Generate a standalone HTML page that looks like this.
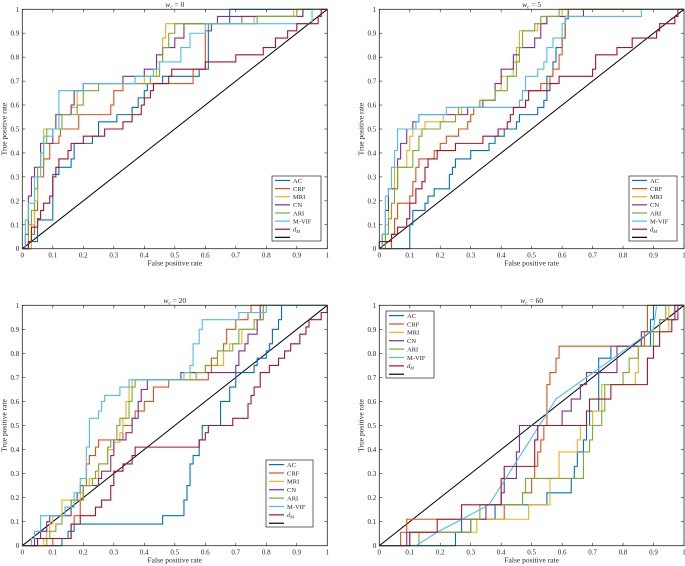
<!DOCTYPE html>
<html><head><meta charset="utf-8"><style>
body{margin:0;background:#fff}
svg{display:block}
text{font-family:"Liberation Serif",serif;fill:#262626}
</style></head><body>
<svg id="fig" width="685" height="566" viewBox="0 0 685 566" xmlns="http://www.w3.org/2000/svg"></svg>
<script>
const seriesNames=["AC","CRF","MRI","CN","ARI","M-VIF","dM"];
const seriesColors=["#0072BD","#D95319","#EDB120","#7E2F8E","#77AC30","#4DBEEE","#A2142F"];
const panelTitles=["0","5","20","60"];
const tickValues=[0,0.1,0.2,0.3,0.4,0.5,0.6,0.7,0.8,0.9,1];
const tickLabels=["0","0.1","0.2","0.3","0.4","0.5","0.6","0.7","0.8","0.9","1"];
// panel 1 (wc=0) step corner points [fpr,tpr]
const p1AC=[[0.02,0.03],[0.05,0.12],[0.1,0.25],[0.1,0.31],[0.12,0.34],[0.16,0.375],[0.17,0.44],[0.23,0.47],[0.25,0.53],[0.31,0.56],[0.36,0.59],[0.38,0.63],[0.4,0.66],[0.41,0.69],[0.46,0.72],[0.58,0.75],[0.61,0.91],[0.62,0.94],[0.68,1],[1,1]];
const p1CRF=[[0.03,0.06],[0.04,0.16],[0.05,0.3],[0.07,0.375],[0.09,0.44],[0.12,0.47],[0.125,0.5],[0.185,0.56],[0.29,0.6],[0.3,0.66],[0.33,0.69],[0.56,0.75],[0.6,0.91],[0.61,0.94],[0.72,0.97],[0.92,1],[1,1]];
const p1MRI=[[0.03,0.1],[0.04,0.2],[0.05,0.34],[0.06,0.44],[0.07,0.5],[0.12,0.56],[0.16,0.59],[0.18,0.66],[0.2,0.69],[0.4,0.72],[0.44,0.78],[0.46,0.88],[0.47,0.94],[0.76,0.97],[0.89,1],[1,1]];
const p1CN=[[0.01,0.06],[0.02,0.22],[0.03,0.3],[0.04,0.34],[0.06,0.44],[0.1,0.5],[0.11,0.56],[0.16,0.6],[0.17,0.66],[0.2,0.69],[0.33,0.72],[0.4,0.75],[0.44,0.81],[0.46,0.84],[0.5,0.88],[0.53,0.94],[0.64,0.97],[0.92,1],[1,1]];
const p1ARI=[[0.02,0.1],[0.03,0.16],[0.04,0.25],[0.05,0.34],[0.07,0.44],[0.08,0.5],[0.13,0.56],[0.18,0.6],[0.2,0.66],[0.25,0.69],[0.42,0.72],[0.45,0.78],[0.46,0.84],[0.48,0.9],[0.5,0.94],[0.77,0.97],[0.9,1],[1,1]];
const p1MVIF=[[0.01,0.12],[0.02,0.19],[0.04,0.3],[0.06,0.4],[0.07,0.47],[0.1,0.5],[0.12,0.6],[0.12,0.66],[0.2,0.69],[0.37,0.72],[0.43,0.75],[0.45,0.78],[0.52,0.84],[0.55,0.9],[0.6,0.94],[0.95,0.97],[0.95,1],[1,1]];
const p1DM=[[0.02,0.03],[0.03,0.09],[0.05,0.125],[0.06,0.16],[0.07,0.19],[0.09,0.22],[0.1,0.3],[0.11,0.34],[0.12,0.375],[0.15,0.41],[0.16,0.44],[0.2,0.47],[0.27,0.5],[0.33,0.53],[0.36,0.56],[0.39,0.6],[0.4,0.63],[0.42,0.66],[0.43,0.69],[0.48,0.72],[0.49,0.75],[0.6,0.78],[0.7,0.81],[0.79,0.84],[0.83,0.88],[0.87,0.91],[0.9,0.94],[0.97,0.97],[0.98,1],[1,1]];
// panel 2 (wc=5)
const p2AC=[[0.1,0.1],[0.11,0.16],[0.15,0.19],[0.16,0.22],[0.18,0.25],[0.23,0.31],[0.24,0.34],[0.25,0.375],[0.3,0.41],[0.36,0.44],[0.38,0.47],[0.41,0.5],[0.45,0.53],[0.46,0.56],[0.52,0.59],[0.54,0.62],[0.55,0.66],[0.55,0.72],[0.57,0.78],[0.58,0.84],[0.6,0.88],[0.61,0.96],[0.62,1],[1,1]];
const p2CRF=[[0.04,0.06],[0.05,0.125],[0.06,0.19],[0.1,0.22],[0.11,0.28],[0.12,0.34],[0.13,0.375],[0.18,0.41],[0.2,0.44],[0.22,0.47],[0.26,0.5],[0.29,0.53],[0.3,0.56],[0.31,0.59],[0.46,0.62],[0.47,0.66],[0.53,0.69],[0.56,0.72],[0.57,0.75],[0.59,0.81],[0.6,0.88],[0.61,0.97],[0.62,1],[1,1]];
const p2MRI=[[0.02,0.1],[0.03,0.25],[0.05,0.34],[0.09,0.41],[0.1,0.47],[0.11,0.5],[0.15,0.53],[0.21,0.56],[0.27,0.59],[0.33,0.62],[0.38,0.66],[0.4,0.72],[0.44,0.78],[0.45,0.84],[0.46,0.91],[0.52,0.94],[0.55,0.97],[0.6,1],[1,1]];
const p2CN=[[0.01,0.06],[0.02,0.16],[0.03,0.25],[0.06,0.375],[0.07,0.44],[0.09,0.5],[0.11,0.53],[0.13,0.56],[0.29,0.59],[0.34,0.62],[0.38,0.69],[0.4,0.75],[0.44,0.81],[0.46,0.84],[0.51,0.88],[0.53,0.94],[0.55,0.97],[0.67,1],[1,1]];
const p2ARI=[[0.02,0.06],[0.03,0.125],[0.04,0.19],[0.05,0.25],[0.06,0.34],[0.11,0.41],[0.13,0.47],[0.14,0.5],[0.2,0.53],[0.25,0.56],[0.26,0.59],[0.33,0.62],[0.38,0.66],[0.42,0.72],[0.45,0.78],[0.46,0.84],[0.47,0.91],[0.51,0.94],[0.53,0.97],[0.59,1],[1,1]];
const p2MVIF=[[0.01,0.06],[0.02,0.22],[0.03,0.25],[0.04,0.34],[0.05,0.41],[0.06,0.5],[0.12,0.53],[0.13,0.56],[0.22,0.59],[0.46,0.62],[0.47,0.66],[0.48,0.72],[0.52,0.75],[0.54,0.78],[0.55,0.84],[0.57,0.88],[0.6,0.94],[0.61,0.97],[0.86,1],[1,1]];
const p2DM=[[0,0.03],[0.04,0.06],[0.06,0.09],[0.09,0.125],[0.1,0.19],[0.12,0.25],[0.14,0.28],[0.15,0.34],[0.16,0.375],[0.19,0.41],[0.25,0.44],[0.34,0.47],[0.39,0.5],[0.42,0.53],[0.43,0.56],[0.44,0.59],[0.48,0.62],[0.49,0.66],[0.56,0.69],[0.59,0.72],[0.7,0.75],[0.71,0.81],[0.78,0.84],[0.83,0.88],[0.91,0.91],[0.92,0.94],[0.97,0.97],[0.98,1],[1,1]];
// panel 3 (wc=20)
const p3AC=[[0.13,0.03],[0.15,0.06],[0.17,0.09],[0.46,0.125],[0.53,0.19],[0.54,0.25],[0.55,0.34],[0.56,0.375],[0.58,0.44],[0.59,0.5],[0.64,0.5],[0.65,0.6],[0.68,0.66],[0.7,0.72],[0.76,0.75],[0.77,0.78],[0.8,0.81],[0.81,0.84],[0.82,0.9],[0.84,0.94],[0.85,1],[1,1]];
const p3CRF=[[0.1,0.03],[0.16,0.09],[0.17,0.125],[0.19,0.19],[0.2,0.25],[0.21,0.34],[0.22,0.375],[0.24,0.41],[0.25,0.44],[0.33,0.5],[0.36,0.53],[0.37,0.56],[0.4,0.6],[0.43,0.66],[0.48,0.69],[0.61,0.72],[0.62,0.78],[0.64,0.81],[0.66,0.84],[0.67,0.9],[0.7,0.94],[0.74,0.97],[0.75,1],[1,1]];
const p3MRI=[[0.07,0.03],[0.08,0.06],[0.09,0.09],[0.1,0.125],[0.13,0.19],[0.19,0.22],[0.2,0.25],[0.22,0.28],[0.25,0.34],[0.28,0.4],[0.3,0.43],[0.32,0.47],[0.33,0.53],[0.34,0.6],[0.35,0.66],[0.36,0.69],[0.55,0.72],[0.6,0.75],[0.66,0.81],[0.68,0.84],[0.72,0.9],[0.77,0.94],[0.79,1],[1,1]];
const p3CN=[[0.04,0.03],[0.06,0.06],[0.08,0.1],[0.09,0.125],[0.16,0.19],[0.18,0.22],[0.19,0.25],[0.25,0.28],[0.26,0.31],[0.29,0.375],[0.3,0.44],[0.34,0.47],[0.36,0.53],[0.38,0.6],[0.39,0.65],[0.41,0.69],[0.52,0.72],[0.7,0.75],[0.71,0.81],[0.73,0.84],[0.74,0.88],[0.77,0.94],[0.78,1],[1,1]];
const p3ARI=[[0.08,0.03],[0.09,0.06],[0.11,0.09],[0.13,0.125],[0.14,0.16],[0.16,0.19],[0.2,0.25],[0.23,0.28],[0.24,0.31],[0.25,0.34],[0.28,0.41],[0.29,0.44],[0.31,0.5],[0.32,0.53],[0.35,0.6],[0.36,0.66],[0.37,0.69],[0.57,0.72],[0.6,0.75],[0.64,0.81],[0.69,0.84],[0.71,0.9],[0.76,0.94],[0.79,1],[1,1]];
const p3MVIF=[[0.03,0.03],[0.04,0.06],[0.06,0.125],[0.14,0.16],[0.17,0.22],[0.19,0.28],[0.21,0.41],[0.22,0.53],[0.25,0.56],[0.26,0.6],[0.27,0.625],[0.32,0.66],[0.35,0.69],[0.53,0.72],[0.55,0.75],[0.56,0.84],[0.58,0.9],[0.59,0.94],[0.71,0.97],[0.8,1],[1,1]];
const p3DM=[[0.05,0.03],[0.16,0.09],[0.19,0.125],[0.24,0.16],[0.26,0.19],[0.29,0.25],[0.3,0.31],[0.33,0.34],[0.36,0.375],[0.37,0.41],[0.58,0.44],[0.6,0.47],[0.61,0.5],[0.69,0.53],[0.74,0.59],[0.75,0.625],[0.76,0.66],[0.78,0.72],[0.81,0.75],[0.84,0.78],[0.86,0.81],[0.88,0.84],[0.91,0.88],[0.93,0.91],[0.94,0.94],[0.98,0.97],[1,1]];
// panel 4 (wc=60)
const p4AC=[[0.12,0],[0.25,0.056],[0.27,0.11],[0.38,0.17],[0.55,0.22],[0.63,0.28],[0.64,0.33],[0.65,0.39],[0.67,0.44],[0.68,0.5],[0.69,0.56],[0.72,0.72],[0.72,0.78],[0.76,0.83],[0.89,0.89],[0.89,0.94],[0.9,1],[1,1]];
const p4CRF=[[0.07,0.056],[0.09,0.11],[0.41,0.17],[0.47,0.22],[0.5,0.28],[0.51,0.33],[0.52,0.39],[0.53,0.44],[0.54,0.5],[0.55,0.61],[0.55,0.67],[0.56,0.72],[0.58,0.78],[0.59,0.83],[0.87,0.89],[0.88,1],[1,1]];
const p4MRI=[[0.1,0.056],[0.32,0.11],[0.49,0.17],[0.56,0.22],[0.56,0.28],[0.59,0.39],[0.65,0.44],[0.66,0.5],[0.7,0.56],[0.73,0.61],[0.73,0.67],[0.84,0.72],[0.85,0.83],[0.86,0.89],[0.95,0.94],[0.95,1],[1,1]];
const p4CN=[[0.09,0.056],[0.3,0.11],[0.35,0.17],[0.4,0.22],[0.41,0.28],[0.45,0.33],[0.45,0.39],[0.46,0.5],[0.6,0.56],[0.63,0.61],[0.66,0.67],[0.68,0.72],[0.78,0.78],[0.78,0.83],[0.86,0.89],[0.92,0.94],[0.98,1],[1,1]];
const p4ARI=[[0.13,0.056],[0.3,0.11],[0.33,0.17],[0.47,0.22],[0.48,0.28],[0.67,0.33],[0.67,0.39],[0.69,0.44],[0.7,0.5],[0.73,0.56],[0.74,0.61],[0.74,0.67],[0.8,0.72],[0.82,0.78],[0.85,0.83],[0.9,0.89],[0.92,0.94],[0.94,1],[1,1]];
const p4MVIF=[[0,0],[0.12,0],[0.19,0.056],[0.36,0.17],[0.5,0.45],[0.58,0.61],[0.9,0.9],[0.91,1],[1,1]];
const p4DM=[[0.1,0.056],[0.19,0.11],[0.27,0.17],[0.4,0.28],[0.41,0.33],[0.51,0.39],[0.51,0.44],[0.52,0.5],[0.68,0.56],[0.69,0.61],[0.76,0.67],[0.88,0.72],[0.88,0.78],[0.9,0.83],[0.92,0.89],[0.96,0.94],[0.97,1],[1,1]];
const panelSeries=[[p1AC,p1CRF,p1MRI,p1CN,p1ARI,p1MVIF,p1DM],[p2AC,p2CRF,p2MRI,p2CN,p2ARI,p2MVIF,p2DM],[p3AC,p3CRF,p3MRI,p3CN,p3ARI,p3MVIF,p3DM],[p4AC,p4CRF,p4MRI,p4CN,p4ARI,p4MVIF,p4DM]];
const linearSeries=[[],[],[],[5]];

const NS="http://www.w3.org/2000/svg";
const svg=document.getElementById('fig');
function mk(tag,attrs,parent){const e=document.createElementNS(NS,tag);for(const k in attrs)e.setAttribute(k,attrs[k]);(parent||svg).appendChild(e);return e;}
const layout=[{x0:22.3,x1:327.3,y0:248.7,y1:9.3,leg:[272,176,321,241]},{x0:379.3,x1:684,y0:248.7,y1:9.3,leg:[629,176,677,241]},{x0:22.3,x1:327.3,y0:545.7,y1:305.3,leg:[266,460,313,527]},{x0:379.3,x1:684,y0:545.7,y1:305.3,leg:[386,311,434,378]}];
layout.forEach((L,pi)=>{
  const g=mk('g',{});
  
  
  const sx=v=>L.x0+v*(L.x1-L.x0), sy=v=>L.y0+v*(L.y1-L.y0);
  mk('rect',{x:L.x0,y:L.y1,width:L.x1-L.x0,height:L.y0-L.y1,fill:'#fff'},g);
  // ticks
  tickValues.forEach((t,i)=>{
    mk('line',{x1:sx(t),x2:sx(t),y1:L.y0,y2:L.y0-3,stroke:'#262626','stroke-width':0.6},g);
    mk('line',{x1:sx(t),x2:sx(t),y1:L.y1,y2:L.y1+3,stroke:'#262626','stroke-width':0.6},g);
    mk('line',{x1:L.x0,x2:L.x0+3,y1:sy(t),y2:sy(t),stroke:'#262626','stroke-width':0.6},g);
    mk('line',{x1:L.x1,x2:L.x1-3,y1:sy(t),y2:sy(t),stroke:'#262626','stroke-width':0.6},g);
    const tx=mk('text',{x:sx(t),y:L.y0+9,'font-size':7,'text-anchor':'middle'},g);tx.textContent=tickLabels[i];
    
    
    const ty=mk('text',{x:L.x0-3,y:sy(t)+2.5,'font-size':7,'text-anchor':'end'},g);ty.textContent=tickLabels[i];
    
    
  });
  // diagonal
  const d=mk('line',{x1:sx(0),y1:sy(0),x2:sx(1),y2:sy(1),stroke:'#000','stroke-width':1},g);
  
  
  panelSeries[pi].forEach((pts,si)=>{
    let dstr='M'+sx(0)+','+sy(0);
    const lin=linearSeries[pi].includes(si);
    pts.forEach(p=>{ if(lin){dstr+=' L'+sx(p[0])+','+sy(p[1]);} else {dstr+=' H'+sx(p[0])+' V'+sy(p[1]);} });
    const path=mk('path',{d:dstr,fill:'none',stroke:seriesColors[si],'stroke-width':1.1},g);
    
    
  });
  mk('rect',{x:L.x0,y:L.y1,width:L.x1-L.x0,height:L.y0-L.y1,fill:'none',stroke:'#262626','stroke-width':0.8},g);
  const tt=mk('text',{x:(L.x0+L.x1)/2,y:L.y1-2.5,'font-size':7.5,'text-anchor':'middle'},g);
  tt.innerHTML='<tspan font-style="italic">w</tspan><tspan font-size="5" dy="1.5" font-style="italic">c</tspan><tspan dy="-1.5"> = '+panelTitles[pi]+'</tspan>';
  
  
  const xl=mk('text',{x:(L.x0+L.x1)/2,y:L.y0+17,'font-size':7.5,'text-anchor':'middle'},g);xl.textContent='False positive rate';
  
  
  const yx=L.x0-16,ym=(L.y0+L.y1)/2;
  const yl=mk('text',{x:yx,y:ym,'font-size':7.5,'text-anchor':'middle',transform:'rotate(-90 '+yx+' '+ym+')'},g);yl.textContent='True positive rate';
  
  
  // legend
  const [lx0,ly0,lx1,ly1]=L.leg;
  const lg=mk('g',{},g);
  
  
  mk('rect',{x:lx0,y:ly0,width:lx1-lx0,height:ly1-ly0,fill:'#fff',stroke:'#262626','stroke-width':0.7},lg);
  const rh=(ly1-ly0)/8;
  for(let i=0;i<8;i++){
    const yy=ly0+rh*(i+0.55);
    const e=mk('g',{},lg);
    
    
    mk('line',{x1:lx0+3,x2:lx0+18,y1:yy,y2:yy,stroke:i<7?seriesColors[i]:'#000','stroke-width':1.2},e);
    if(i<7){const t=mk('text',{x:lx0+21,y:yy+2.3,'font-size':6.5},e);
      if(i===6)t.innerHTML='<tspan font-style="italic">d</tspan><tspan font-style="italic" font-size="4.5" dy="1.5">M</tspan>';
      else t.textContent=seriesNames[i];}
  }
});
</script>
</body></html>
